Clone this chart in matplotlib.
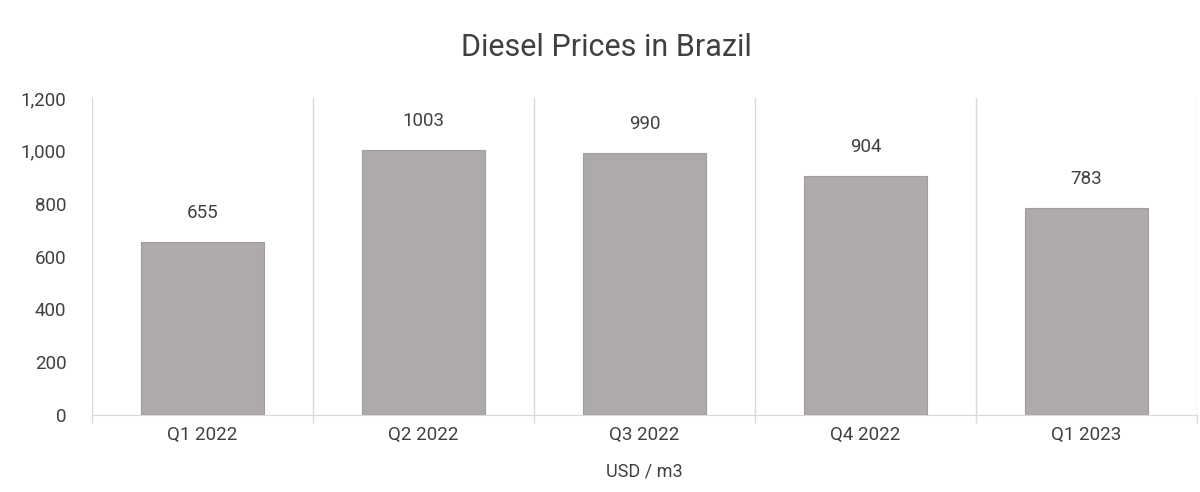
import matplotlib
matplotlib.use("Agg")
import matplotlib.pyplot as plt
import numpy as np

categories = ["Q1 2022", "Q2 2022", "Q3 2022", "Q4 2022", "Q1 2023"]
values = [655, 1003, 990, 904, 783]
yticks = [0, 200, 400, 600, 800, 1000, 1200]

plt.rcParams['font.family'] = ['Roboto', 'DejaVu Sans']
text_color = "#404040"
grid_color = "#d9d9d9"

fig = plt.figure(figsize=(12, 4.92), dpi=100)
ax = fig.add_axes([92/1200, 1-415/492, (1197-92)/1200, (415-98)/492])

x = np.arange(len(categories))
ax.bar(x, values, width=0.56, color="#aeaaaa", edgecolor="#a09c9c", linewidth=0.8, zorder=3)
for xi, v in zip(x, values):
    ax.annotate(f"{v}", (xi, v), xytext=(0, 21), textcoords="offset points",
                ha="center", va="center", fontsize=13.5, color=text_color)

ax.set_xlim(-0.5, len(categories) - 0.5)
ax.set_ylim(0, 1200)
ax.set_yticks(yticks)
ax.set_yticklabels([f"{t:,}" for t in yticks])
ax.set_xticks(x)
ax.set_xticklabels(categories)
ax.set_xticks(np.arange(-0.5, len(categories)), minor=True)
ax.tick_params(axis="x", which="major", length=0, pad=8, labelsize=13.5, labelcolor=text_color)
ax.tick_params(axis="x", which="minor", length=6, color=grid_color, width=1)
ax.tick_params(axis="y", length=0, pad=18.5, labelsize=13.5, labelcolor=text_color)
ax.grid(axis="x", which="minor", color=grid_color, linewidth=1, zorder=0)
for s in ["top", "right", "left"]:
    ax.spines[s].set_visible(False)
ax.spines["bottom"].set_color(grid_color)
ax.set_xlabel("USD / m3", fontsize=13, color=text_color, labelpad=13)

fig.text(606/1200, 1-48/492, "Diesel Prices in Brazil", ha="center", va="center",
         fontsize=22, color=text_color)

fig.savefig("out.png", dpi=100)
